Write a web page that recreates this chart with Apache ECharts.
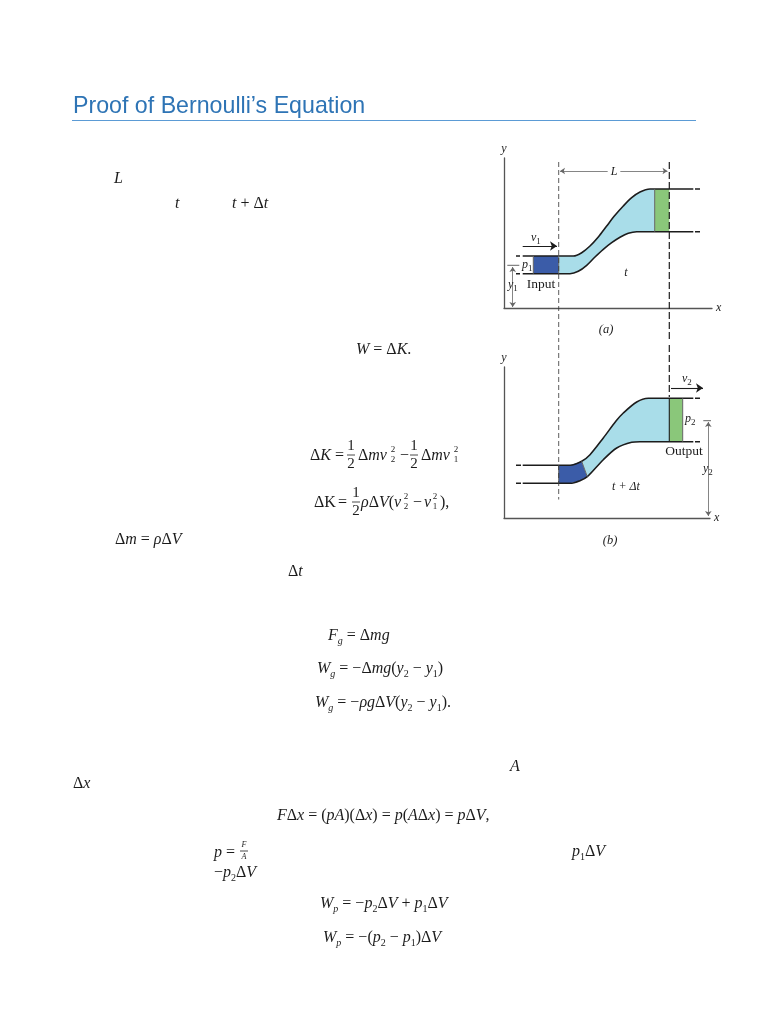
<!DOCTYPE html>
<html>
<head>
<meta charset="utf-8">
<style>html,body{margin:0;padding:0;background:#fff}#chart{width:768px;height:1024px}</style>
<script src="https://cdn.jsdelivr.net/npm/echarts@6/dist/echarts.min.js"></script>
</head>
<body>
<div id="chart"></div>
<script>
// pipe walls, panel (a), in diagram units measured from the axis corner
const aTop = [[18.7,52],[69.3,52],[77.7,55.3],[86,62],[94.3,71],[102.7,82],[111,92.7],[119.3,102],[127.7,110.3],[136,116],[146,119],[189.3,119]];
const aBottom = [[18.7,34.3],[66,34.3],[74.3,36.7],[82.7,42.7],[91,51],[99.3,58.7],[107.7,65.3],[116,70.7],[124.3,74.7],[132.7,76.3],[189.3,76.3]];
// pipe walls, panel (b)
const bTop = [[18.7,52.7],[66,52.7],[77.7,56.7],[86,63.3],[99.3,80],[112,97],[119.3,105],[132.7,116],[144.3,119.7],[189.3,119.7]];
const bBottom = [[18.7,34.7],[66,34.7],[76,37.3],[83.3,41.3],[99.3,58.3],[112.7,70],[127.7,75.7],[136,76.3],[189.3,76.3]];

// fluid sections: [topFrom, topTo, bottomFrom, bottomTo]
const aInput = [29.3, 54.7, 29.3, 54.7];
const aMiddle = [54.7, 150.7, 54.7, 150.7];
const aOutput = [150.7, 165.3, 150.7, 165.3];
const bInput = [54.7, 77.7, 54.7, 83.3];
const bMiddle = [77.7, 165.3, 83.3, 165.3];
const bOutput = [165.3, 178.7, 165.3, 178.7];

// thin dividers and wall stubs
const aStubs = [[[12,52],[16,52]],[[12,34.3],[16,34.3]],[[191,119],[196,119]],[[191,76.3],[196,76.3]]];
const bStubs = [[[12,52.7],[17,52.7]],[[12,34.7],[17,34.7]],[[191,119.7],[196,119.7]],[[191,76.3],[196,76.3]]];
const aDividers = [[[29.3,34.3],[29.3,52]],[[54.7,34.3],[54.7,52]],[[150.7,76.3],[150.7,119]]];
const bDividers = [[[54.7,34.7],[54.7,52.7]],[[77.7,56.7],[83.3,41.3]],[[178.7,76.3],[178.7,119.7]]];
const bOutputEdge = [[165.3,76.3],[165.3,119.7]];

// reference lines that run across both panels
const aGuideThin = [[54.7,146],[54.7,-34]];
const aGuideBold = [[165.3,146],[165.3,-34]];
const bGuideThin = [[54.7,173],[54.7,18.5]];
const bGuideBold = [[165.3,173],[165.3,121]];

// dimension lines and arrows
const aLength = [[56,137],[163.5,137]];
const aVelocity = [[18.7,62],[53,62]];
const aHeight = [[8.7,41],[8.7,1]];
const aHeightTick = [[3.3,42.7],[15.3,42.7]];
const bVelocity = [[167,130],[199,130]];
const bHeight = [[204.3,96],[204.3,2]];
const bHeightTick = [[199.3,97.3],[210,97.3]];

const INK = '#1c1c1c';
const GREY = '#666';
const BLUE = '#3b5ca8';
const SKY = '#a9dde9';
const GREEN = '#8ac77a';
const MATH = '"Liberation Serif"';

const panelAxis = (gridIndex, xMax, yMax) => ({
    x: {
        type: 'value', gridIndex, min: 0, max: xMax, name: 'x', nameGap: 4,
        nameTextStyle: { fontFamily: MATH, fontStyle: 'italic', fontSize: 12, color: INK },
        axisLine: { lineStyle: { color: '#555', width: 1.3 } },
        axisTick: { show: false }, axisLabel: { show: false }, splitLine: { show: false },
    },
    y: {
        type: 'value', gridIndex, min: 0, max: yMax, name: 'y', nameGap: 3,
        nameTextStyle: { fontFamily: MATH, fontStyle: 'italic', fontSize: 12, color: INK },
        axisLine: { lineStyle: { color: '#555', width: 1.3 } },
        axisTick: { show: false }, axisLabel: { show: false }, splitLine: { show: false },
    },
});

// filled pipe section between two walls
const band = (top, bottom, range, color, panel) => {
    const [tf, tt, bf, bt] = range;
    const inside = (wall, from, to) => wall.filter((p) => p[0] > from && p[0] < to);
    const wallY = (u, wall) => {
        const exact = wall.find((p) => p[0] === u);
        if (exact) return exact[1];
        let i = 1;
        while (i < wall.length - 1 && wall[i][0] < u) i += 1;
        const [a, b] = [wall[i - 1], wall[i]];
        return a[1] + ((b[1] - a[1]) * (u - a[0])) / (b[0] - a[0]);
    };
    const outline = [
        [tf, wallY(tf, top)], ...inside(top, tf, tt), [tt, wallY(tt, top)],
        [bt, wallY(bt, bottom)], ...inside(bottom, bf, bt).reverse(), [bf, wallY(bf, bottom)],
    ];
    return {
        type: 'custom', xAxisIndex: panel, yAxisIndex: panel, silent: true, z: 1,
        data: outline,
        clip: false,
        renderItem: (params, api) => (params.dataIndex === 0 ? {
            type: 'polygon',
            shape: { points: outline.map((p) => api.coord(p)) },
            style: { fill: color },
        } : null),
    };
};

const path = (points, panel, color, width, dash, smooth) => ({
    type: 'line', xAxisIndex: panel, yAxisIndex: panel, data: points, clip: false,
    showSymbol: false, silent: true, smooth: smooth || false, z: 3,
    lineStyle: { color, width, type: dash || 'solid' },
});

const arrow = (points, panel, color, width, both) => ({
    type: 'line', xAxisIndex: panel, yAxisIndex: panel, data: [], silent: true, z: 4,
    markLine: {
        silent: true, animation: false,
        symbol: [both ? 'arrow' : 'none', 'arrow'], symbolSize: both ? 5 : 7,
        label: { show: false }, lineStyle: { color, width, type: 'solid' },
        data: [[{ coord: points[0] }, { coord: points[1] }]],
    },
});

// small markup helper, {i|..} italic, {s|..} subscript, {si|..} italic subscript
const richAt = (size, script) => ({
    i: { fontFamily: MATH, fontStyle: 'italic', fontSize: size, lineHeight: size + 5, color: INK },
    r: { fontFamily: MATH, fontSize: size, lineHeight: size + 5, color: INK },
    s: { fontFamily: MATH, fontSize: script, height: script, verticalAlign: 'bottom', color: INK },
    si: { fontFamily: MATH, fontStyle: 'italic', fontSize: script, height: script, verticalAlign: 'bottom', color: INK },
});
const bodyRich = richAt(16, 10);
const labelRich = richAt(12, 9);
const styled = (x, y, text, richStyle, size) => ({
    type: 'text', x, y, silent: true, z: 10,
    style: { text, rich: richStyle, font: `${size}px ${MATH}`, fill: INK, textAlign: 'left', textVerticalAlign: 'middle' },
});
const eq = (x, y, text) => styled(x, y + 1, text, bodyRich, 16);
const tag = (x, y, text) => styled(x, y, text, labelRich, 12);
const small = (x, y, text, size, italic, background) => ({
    type: 'text', x, y, silent: true, z: 10,
    style: {
        text, font: `${italic ? 'italic ' : ''}${size}px ${MATH}`, fill: INK,
        textAlign: 'center', textVerticalAlign: 'middle',
        backgroundColor: background, padding: background ? [0, 3] : 0,
    },
});
const fraction = (cx, cy, top, bottom, size, half, italic) => [
    small(cx, cy - half, top, size, italic),
    small(cx, cy + half, bottom, size, italic),
    { type: 'line', silent: true, z: 10, shape: { x1: cx - 4, y1: cy, x2: cx + 4, y2: cy }, style: { stroke: INK, lineWidth: 0.8 } },
];

const axesA = panelAxis(0, 208, 150);
const axesB = panelAxis(1, 206, 151);

const body = [
    eq(114, 178, '{i|L}'),
    eq(175, 203, '{i|t}'),
    eq(232, 203, '{i|t} {r|+ Δ}{i|t}'),
    eq(356, 349, '{i|W} {r|= Δ}{i|K}{r|.}'),

    eq(310, 455, '{r|Δ}{i|K} {r|=}'),
    ...fraction(351, 455, '1', '2', 15, 9),
    eq(358, 455, '{r|Δ}{i|mv}'),
    small(393, 450, '2', 9), small(393, 460, '2', 9),
    eq(400, 455, '{r|−}'),
    ...fraction(414, 455, '1', '2', 15, 9),
    eq(421, 455, '{r|Δ}{i|mv}'),
    small(456, 450, '2', 9), small(456, 460, '1', 9),

    eq(314, 502, '{r|ΔK}'),
    eq(338, 502, '{r|=}'),
    ...fraction(356, 502, '1', '2', 15, 9),
    eq(361, 502, '{i|ρ}{r|Δ}{i|V}{r|(}{i|v}'),
    small(406, 497, '2', 9), small(406, 507, '2', 9),
    eq(413, 502, '{r|−}'),
    eq(424, 502, '{i|v}'),
    small(435, 497, '2', 9), small(435, 507, '1', 9),
    eq(440, 502, '{r|),}'),

    eq(115, 539, '{r|Δ}{i|m} {r|=} {i|ρ}{r|Δ}{i|V}'),
    eq(288, 571, '{r|Δ}{i|t}'),
    eq(328, 635, '{i|F}{si|g} {r|= Δ}{i|mg}'),
    eq(317, 668, '{i|W}{si|g} {r|= −Δ}{i|mg}{r|(}{i|y}{s|2} {r|−} {i|y}{s|1}{r|)}'),
    eq(315, 702, '{i|W}{si|g} {r|= −}{i|ρg}{r|Δ}{i|V}{r|(}{i|y}{s|2} {r|−} {i|y}{s|1}{r|).}'),

    eq(510, 766, '{i|A}'),
    eq(73, 783, '{r|Δ}{i|x}'),
    eq(277, 815, '{i|F}{r|Δ}{i|x} {r|= (}{i|pA}{r|)(Δ}{i|x}{r|) =} {i|p}{r|(}{i|A}{r|Δ}{i|x}{r|) =} {i|p}{r|Δ}{i|V}{r|,}'),
    eq(214, 852, '{i|p} {r|=}'),
    ...fraction(244, 851, 'F', 'A', 8, 6, true),
    eq(572, 851, '{i|p}{s|1}{r|Δ}{i|V}'),
    eq(214, 872, '{r|−}{i|p}{s|2}{r|Δ}{i|V}'),
    eq(320, 903, '{i|W}{si|p} {r|= −}{i|p}{s|2}{r|Δ}{i|V} {r|+} {i|p}{s|1}{r|Δ}{i|V}'),
    eq(323, 937, '{i|W}{si|p} {r|= −(}{i|p}{s|2} {r|−} {i|p}{s|1}{r|)Δ}{i|V}'),
];

const diagramText = [
    small(614, 171.5, 'L', 12, true, '#fff'),
    tag(531, 238, '{i|v}{s|1}'),
    tag(522, 265, '{i|p}{s|1}'),
    small(541, 284, 'Input', 13.5),
    small(626, 273, 't', 12, true),
    small(606, 330, '(a)', 12.5, true),
    tag(682, 379, '{i|v}{s|2}'),
    tag(685, 419, '{i|p}{s|2}'),
    small(684, 451, 'Output', 13.5),
    tag(703, 469, '{i|y}{s|2}'),
    tag(508, 285, '{i|y}{s|1}'),
    small(626, 487, 't + Δt', 12, true),
    small(610, 541, '(b)', 12.5, true),
];

const option = {
    animation: false,
    backgroundColor: '#fff',
    title: {
        text: 'Proof of Bernoulli’s Equation',
        left: 68, top: 90,
        textStyle: { fontFamily: '"Liberation Sans"', fontSize: 23.2, fontWeight: 'normal', color: '#2e74b5' },
    },
    grid: [
        { left: 504, top: 158, width: 208, height: 150 },
        { left: 504, top: 367, width: 206, height: 151 },
    ],
    xAxis: [axesA.x, axesB.x],
    yAxis: [axesA.y, axesB.y],
    series: [
        band(aTop, aBottom, aInput, BLUE, 0),
        band(aTop, aBottom, aMiddle, SKY, 0),
        band(aTop, aBottom, aOutput, GREEN, 0),
        band(bTop, bBottom, bInput, BLUE, 1),
        band(bTop, bBottom, bMiddle, SKY, 1),
        band(bTop, bBottom, bOutput, GREEN, 1),
        path(aTop, 0, INK, 1.6, null, 0.3),
        path(aBottom, 0, INK, 1.6, null, 0.3),
        path(bTop, 1, INK, 1.6, null, 0.3),
        path(bBottom, 1, INK, 1.6, null, 0.3),
        ...aStubs.map((s) => path(s, 0, INK, 1.6)),
        ...bStubs.map((s) => path(s, 1, INK, 1.6)),
        ...aDividers.map((s) => path(s, 0, GREY, 1)),
        ...bDividers.map((s) => path(s, 1, GREY, 1)),
        path(bOutputEdge, 1, INK, 1.1),
        path(aGuideThin, 0, '#333', 0.8, [5, 3]),
        path(aGuideBold, 0, INK, 1.2, [7, 3]),
        path(bGuideThin, 1, '#333', 0.8, [5, 3]),
        path(bGuideBold, 1, INK, 1.2, [7, 3]),
        arrow(aLength, 0, GREY, 0.8, true),
        arrow(aVelocity, 0, INK, 1.1),
        arrow(aHeight, 0, GREY, 0.8, true),
        path(aHeightTick, 0, GREY, 1),
        arrow(bVelocity, 1, INK, 1.1),
        arrow(bHeight, 1, GREY, 0.8, true),
        path(bHeightTick, 1, GREY, 1),
    ],
    graphic: [
        { type: 'line', silent: true, shape: { x1: 72, y1: 120.5, x2: 696, y2: 120.5 }, style: { stroke: '#5b9bd5', lineWidth: 1 } },
        ...body,
        ...diagramText,
    ],
};

const chart = echarts.init(document.getElementById('chart'), null, { renderer: 'canvas' });
chart.setOption(option);
</script>
</body>
</html>
